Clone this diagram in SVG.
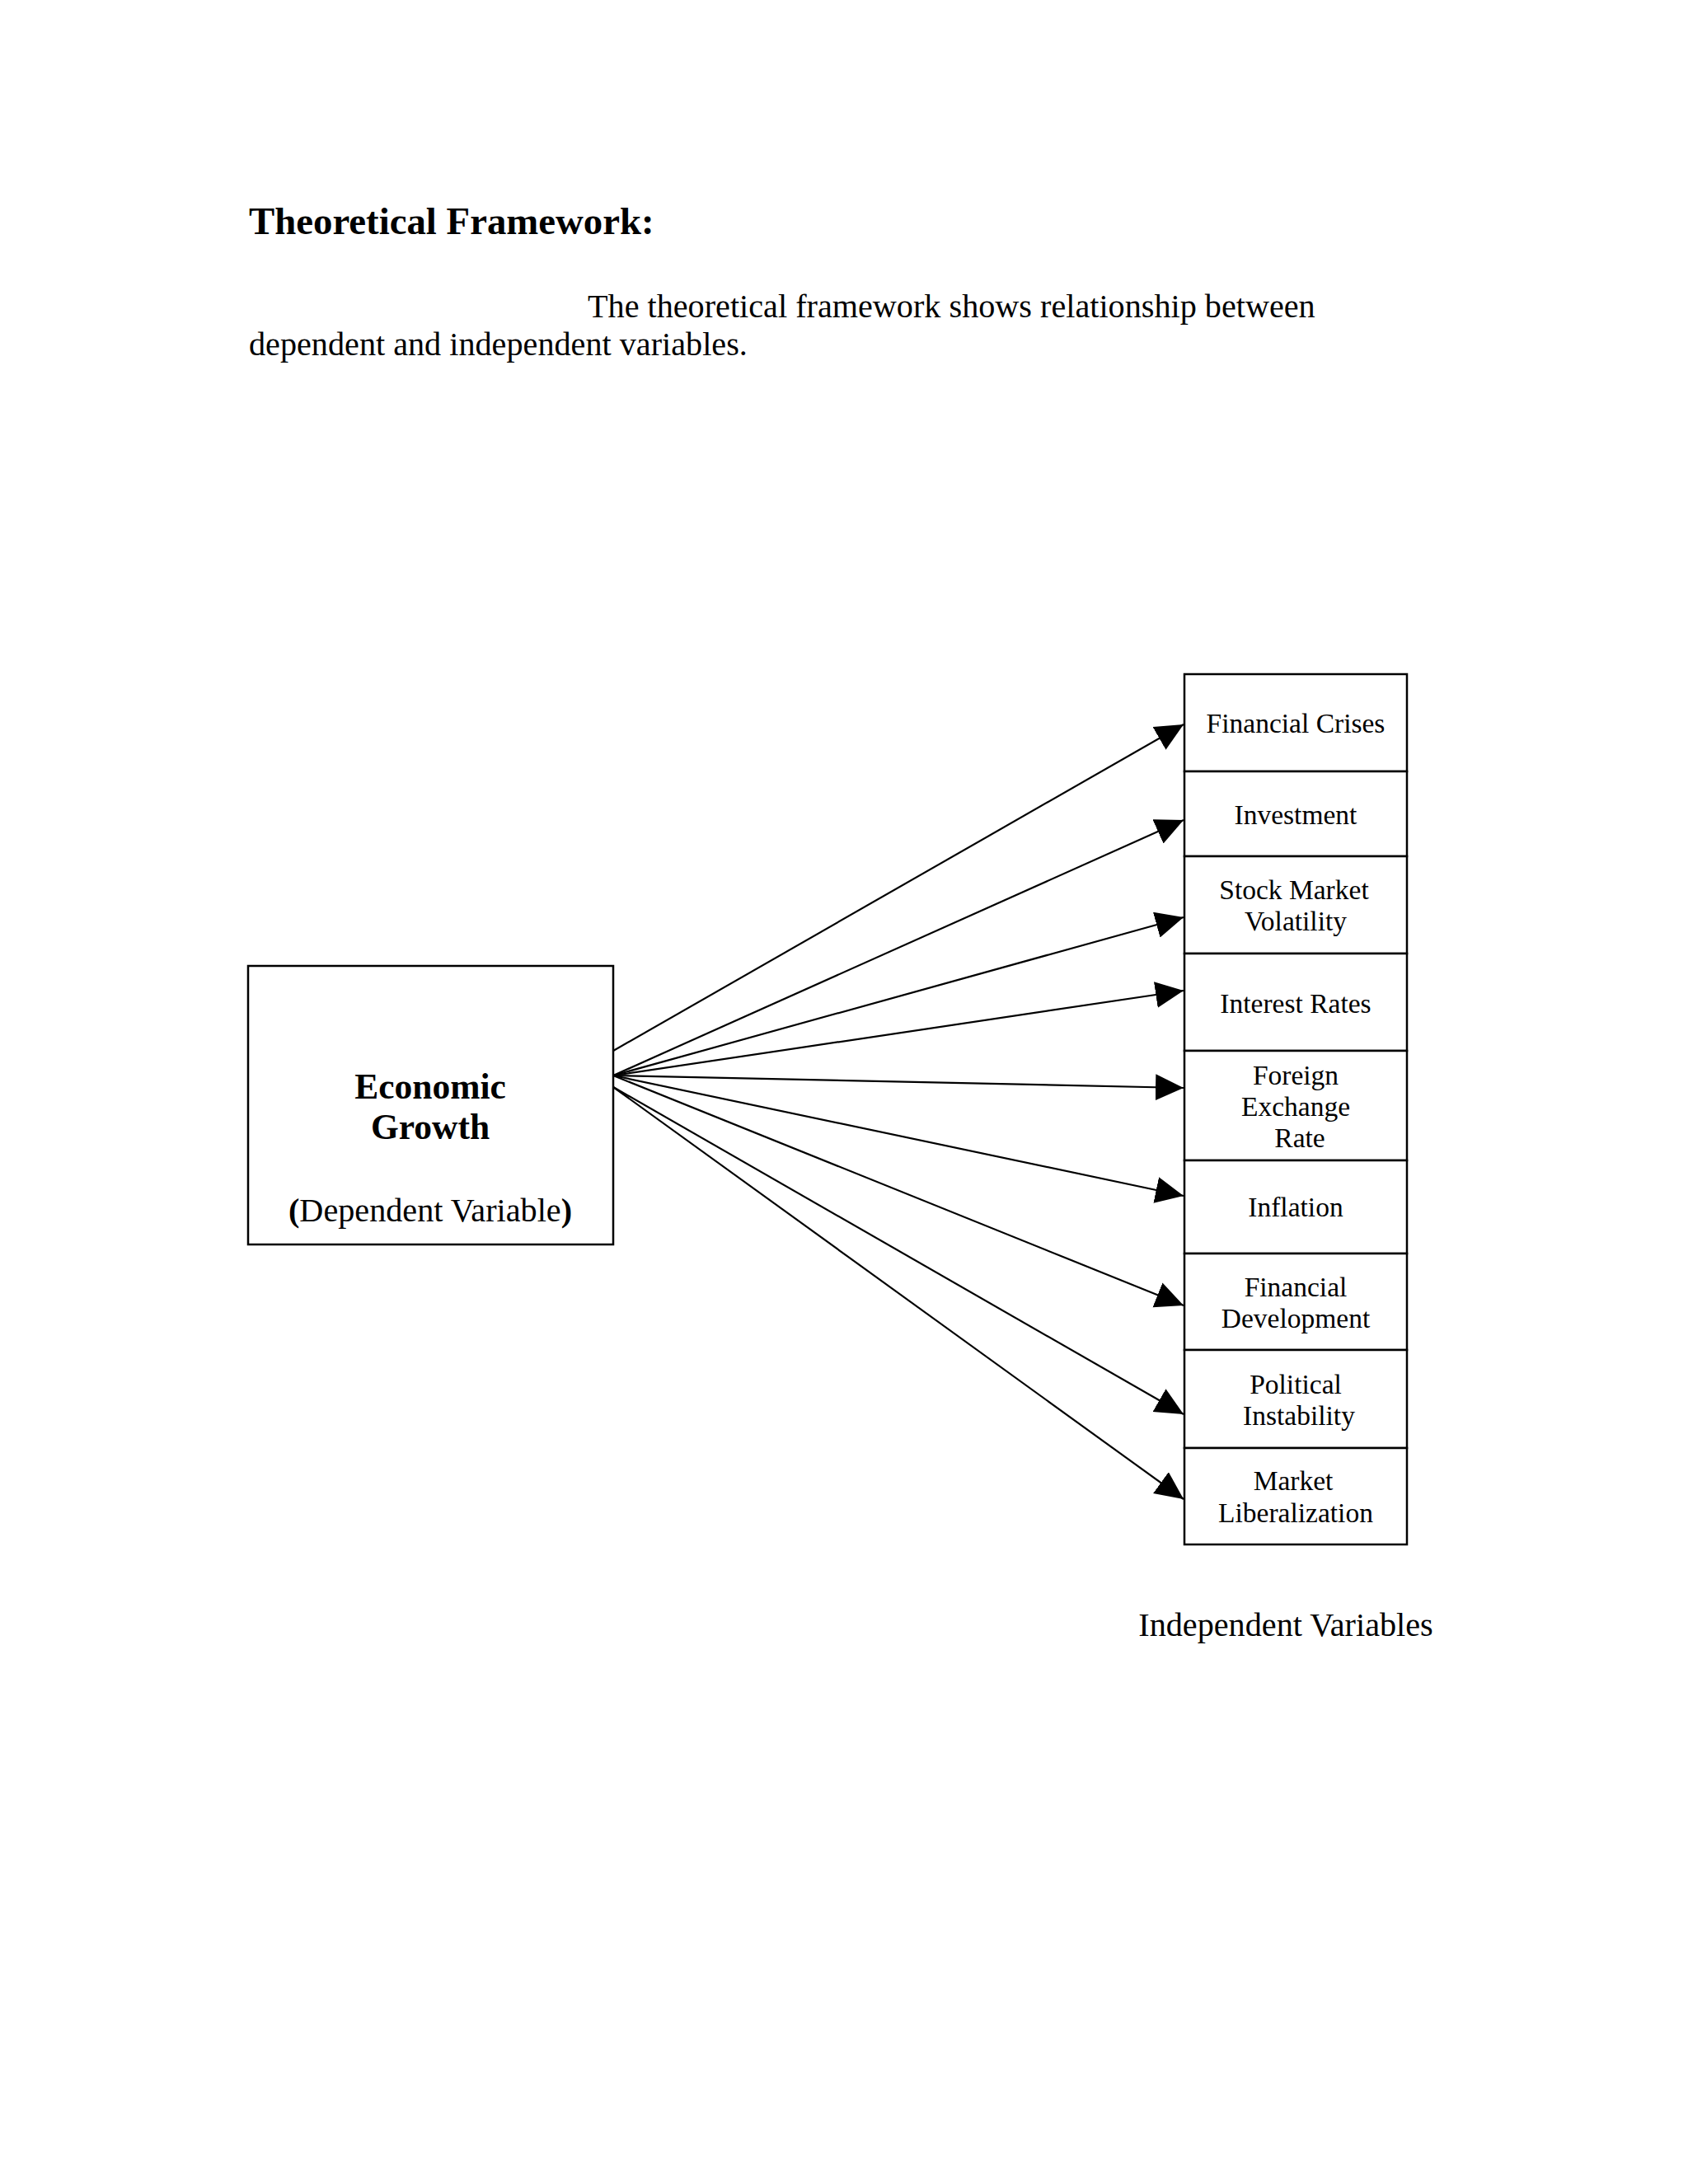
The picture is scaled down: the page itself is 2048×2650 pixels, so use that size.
<svg xmlns="http://www.w3.org/2000/svg" width="2048" height="2650" viewBox="0 0 2048 2650">
<style>
text{font-family:"Liberation Serif","Times New Roman",serif;fill:#000}
.box{fill:#fff;stroke:#000;stroke-width:2.5}
.lbl{font-size:33.5px;text-anchor:middle}
.conn line{stroke:#000;stroke-width:2.2;marker-end:url(#ah)}
</style>
<defs>
<marker id="ah" markerUnits="userSpaceOnUse" markerWidth="36" markerHeight="34" refX="34" refY="16" orient="auto">
<path d="M0,0 L34,16 L0,32 z" fill="#000"/>
</marker>
</defs>
<rect width="2048" height="2650" fill="#fff"/>
<g id="title">
<text x="302" y="284" font-size="46.8" font-weight="bold">Theoretical Framework:</text>
<text x="713" y="385" font-size="40.2">The theoretical framework shows relationship between</text>
<text x="302" y="431" font-size="40.2">dependent and independent variables.</text>
</g>
<g id="economic-growth">
<rect class="box" x="301" y="1172" width="443" height="338"/>
<text x="522" y="1333" font-size="43.5" font-weight="bold" text-anchor="middle">Economic</text>
<text x="522" y="1382" font-size="43.5" font-weight="bold" text-anchor="middle">Growth</text>
<text x="522" y="1482" font-size="40.2" text-anchor="middle"><tspan font-weight="bold">(</tspan>Dependent Variable<tspan font-weight="bold">)</tspan></text>
</g>
<g id="financial-crises">
<rect class="box" x="1437" y="818" width="270" height="118"/>
<text class="lbl" x="1572" y="889">Financial Crises</text>
</g>
<g id="investment">
<rect class="box" x="1437" y="936" width="270" height="103"/>
<text class="lbl" x="1572" y="1000">Investment</text>
</g>
<g id="stock-market-volatility">
<rect class="box" x="1437" y="1039" width="270" height="118"/>
<text class="lbl" x="1570" y="1091">Stock Market</text>
<text class="lbl" x="1572" y="1129">Volatility</text>
</g>
<g id="interest-rates">
<rect class="box" x="1437" y="1157" width="270" height="118"/>
<text class="lbl" x="1572" y="1229">Interest Rates</text>
</g>
<g id="foreign-exchange-rate">
<rect class="box" x="1437" y="1275" width="270" height="133"/>
<text class="lbl" x="1572" y="1316">Foreign</text>
<text class="lbl" x="1572" y="1354">Exchange</text>
<text class="lbl" x="1577" y="1392">Rate</text>
</g>
<g id="inflation">
<rect class="box" x="1437" y="1408" width="270" height="113"/>
<text class="lbl" x="1572" y="1476">Inflation</text>
</g>
<g id="financial-development">
<rect class="box" x="1437" y="1521" width="270" height="117"/>
<text class="lbl" x="1572" y="1573">Financial</text>
<text class="lbl" x="1572" y="1611">Development</text>
</g>
<g id="political-instability">
<rect class="box" x="1437" y="1638" width="270" height="119"/>
<text class="lbl" x="1572" y="1691">Political</text>
<text class="lbl" x="1576" y="1729">Instability</text>
</g>
<g id="market-liberalization">
<rect class="box" x="1437" y="1757" width="270" height="117"/>
<text class="lbl" x="1569" y="1808">Market</text>
<text class="lbl" x="1572" y="1847">Liberalization</text>
</g>
<g id="independent-variables-label">
<text x="1560" y="1985" font-size="40.2" text-anchor="middle">Independent Variables</text>
</g>
<g id="connectors" class="conn">
<line x1="744" y1="1275" x2="1436" y2="879"/>
<line x1="744" y1="1305" x2="1436" y2="995"/>
<line x1="744" y1="1305" x2="1436" y2="1113"/>
<line x1="744" y1="1305" x2="1436" y2="1202"/>
<line x1="744" y1="1305" x2="1436" y2="1320"/>
<line x1="744" y1="1305" x2="1436" y2="1451"/>
<line x1="744" y1="1305" x2="1436" y2="1584"/>
<line x1="744" y1="1319" x2="1436" y2="1716"/>
<line x1="744" y1="1319" x2="1436" y2="1819"/>
</g>
</svg>
